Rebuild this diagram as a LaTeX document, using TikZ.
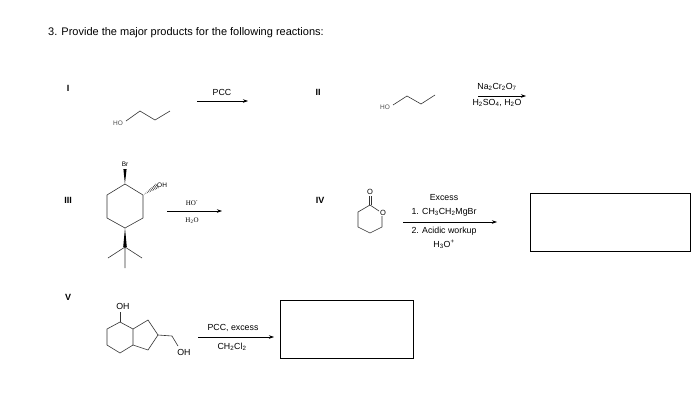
\documentclass[tikz,border=0pt]{standalone}
\usepackage{fontspec}
\setmainfont{Liberation Sans}
\newfontfamily\serifx{Liberation Serif}
\usetikzlibrary{arrows.meta,calc}
\newcommand{\sbx}[1]{\textsubscript{#1}}
\begin{document}
\begin{tikzpicture}[x=1pt,y=-1pt,
 bond/.style={line width=0.6pt,black!80},
 rx/.style={line width=0.6pt,-{Stealth[length=5pt,width=3.5pt]}},
 lab/.style={inner sep=0pt,font=\fontsize{8.8}{9}\selectfont},
 sm/.style={inner sep=0pt,font=\fontsize{6.5}{7}\selectfont},
 num/.style={inner sep=0pt,font=\fontsize{9}{10}\selectfont\bfseries},
 box/.style={draw,line width=0.6pt}]
\useasboundingbox (0,0) rectangle (700,416);
\node[anchor=west,inner sep=0pt,font=\fontsize{11}{12}\selectfont] (title) at (48,33) {3. Provide the major products for the following reactions:};
% I
\node[num] (n1) at (68,88) {I};
\node[sm,text=black!70] (ho1) at (118,123) {HO};
\draw[bond] (126,121)--(140,111)--(155,120)--(170,111);
\node[lab] (pcc) at (222,92) {PCC};
\coordinate (a1s) at (197,101); \coordinate (a1e) at (248,101);
\draw[rx] (a1s)--(a1e);
% II
\node[num] (n2) at (318,92) {II};
\node[sm,text=black!70] (ho2) at (385,107) {HO};
\draw[bond] (393,105)--(407,96)--(421,104)--(435,95);
\node[lab] (r2a) at (497,87) {Na\sbx{2}Cr\sbx{2}O\sbx{7}};
\node[lab] (r2b) at (497,103) {H\sbx{2}SO\sbx{4}, H\sbx{2}O};
\coordinate (a2s) at (478,96); \coordinate (a2e) at (526,96);
\draw[rx] (a2s)--(a2e);
% III
\node[num] (n3) at (68,200) {III};
\draw[bond] (125,184)--(143,195)--(143,218)--(125,228)--(107,218)--(107,195)--cycle;
\node[sm] (br) at (125,164) {Br};
\fill (124.9,184)--(123.4,169)--(126.6,169)--cycle;
\foreach \t in {0.1,0.2,...,1.0}{
  \draw[line width=0.4pt] ($(143,195)!\t!(157,186)+(-\t*1.5,-\t*2.2)$)--($(143,195)!\t!(157,186)+(\t*1.5,\t*2.2)$);}
\node[sm,anchor=west] (oh3) at (157,185) {OH};
\fill (125,228)--(123.2,247)--(126.8,247)--cycle;
\draw[bond] (108,258)--(125,247)--(142,258) (125,247)--(125,268);
\node[sm,font=\serifx\fontsize{7}{7}\selectfont] (ho3) at (192,203) {HO\textsuperscript{\textbf{-}}};
\node[sm,font=\serifx\fontsize{7}{7}\selectfont] (w3) at (192,221) {H\sbx{2}O};
\coordinate (a3s) at (167,211); \coordinate (a3e) at (222,211);
\draw[rx] (a3s)--(a3e);
% IV
\node[num] (n4) at (320,200) {IV};
\draw[bond] (370,205)--(379,211) (382,216)--(382,227)--(370,233)--(358,227)--(358,212)--(370,205);
\node[sm,font=\fontsize{7.5}{8}\selectfont] (o4r) at (383,213) {O};
\node[sm,font=\fontsize{7.5}{8}\selectfont] (o4) at (370,192) {O};
\draw[bond] (369,205)--(369,196) (371.4,205)--(371.4,196);
\node[lab] (r4a) at (444,198) {Excess};
\node[lab] (r4b) at (444,212) {1. CH\sbx{3}CH\sbx{2}MgBr};
\node[lab] (r4c) at (444,231) {2. Acidic workup};
\node[lab] (r4d) at (444,244) {H\sbx{3}O\textsuperscript{+}};
\coordinate (a4s) at (403,222); \coordinate (a4e) at (497,222);
\draw[rx] (a4s)--(a4e);
\draw[box] (530,193) rectangle (690,251);
% V
\node[num] (n5) at (68,297) {V};
\node[lab] (oh5a) at (123,306) {OH};
\draw[bond] (120,312)--(120,322);
\draw[bond] (120,322)--(133,329)--(133,345)--(120,353)--(107,345)--(107,329)--cycle;
\draw[bond] (133,329)--(148,320)--(158,335)--(148,350)--(133,345);
\draw[bond] (158,335)--(172,336)--(178,346);
\node[lab] (oh5b) at (184,352) {OH};
\node[lab] (r5a) at (233,328) {PCC, excess};
\node[lab] (r5b) at (232,347) {CH\sbx{2}Cl\sbx{2}};
\coordinate (a5s) at (198,337); \coordinate (a5e) at (274,337);
\draw[rx] (a5s)--(a5e);
\draw[box] (280,300) rectangle (413,358);
\end{tikzpicture}
\end{document}
